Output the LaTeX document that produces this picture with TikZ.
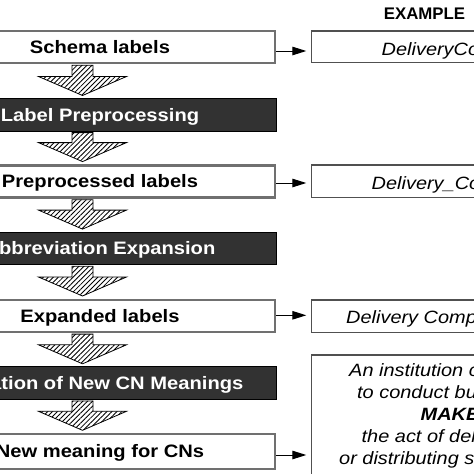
\documentclass[tikz,border=0pt]{standalone}
\usepackage{fontspec}
\setmainfont{Liberation Sans}[FakeStretch=1.12]
\newfontfamily\plainsans{Liberation Sans}
\usetikzlibrary{arrows.meta,patterns.meta,calc}
\definecolor{boxgray}{RGB}{112,112,112}
\definecolor{darkfill}{RGB}{50,50,50}
\definecolor{exgray}{RGB}{80,80,80}
\newcommand\stagefont{\fontsize{18}{20}\selectfont\bfseries}
\newcommand\exfont{\fontsize{17.8}{20}\selectfont\itshape}
\tikzset{
  stagebox/.style={draw=boxgray, line width=2.4pt, fill=white, minimum width=350pt,
    minimum height=32pt, inner sep=0pt, font=\stagefont, text height=12.9pt, text depth=0pt},
  procbox/.style={draw=black, line width=0.9pt, fill=darkfill, text=white, minimum width=352pt,
    minimum height=32.5pt, inner sep=0pt, font=\stagefont, text height=12.9pt, text depth=0pt},
  exbox/.style={draw=exgray, line width=1.1pt, fill=white, inner sep=0pt, minimum width=328pt},
  extext/.style={inner sep=0pt, anchor=base west, font=\exfont},
  conn/.style={line width=1pt, -{Triangle[length=14pt,width=8.5pt]}, shorten >=5pt},
  hatcharrow/.style={draw=black, line width=0.8pt, fill=white,
    postaction={pattern={Lines[angle=45,distance=3.5pt,line width=0.85pt]}}},
}
\newcommand\hatchdown[2]{%
  \coordinate (hs#1) at ($(#1.south -| hx)+(0,1.2)$);
  \coordinate (ht#1) at ($(#2.north -| hx)+(0,-2.5)$);
  \draw[hatcharrow] ($(hs#1)+(-10.5,0)$) -- ($(hs#1)+(10.5,0)$) -- ($(ht#1)+(10.5,-19)$)
    -- ($(ht#1)+(44,-19)$) -- (ht#1) -- ($(ht#1)+(-44,-19)$) -- ($(ht#1)+(-10.5,-19)$) -- cycle;}
\begin{document}
\begin{tikzpicture}[x=1pt,y=-1pt]
\useasboundingbox (0,0) rectangle (474,474);
\fill[white] (0,0) rectangle (474,474);
\clip (0,0) rectangle (474,474);
\coordinate (hx) at (82.5,0);
% title
\node[inner sep=0pt, anchor=base, font=\plainsans\fontsize{16.8}{18}\selectfont\bfseries] (ex) at (424.5,19) {EXAMPLE};
% stages
\node[stagebox] (b1) at (100,46.75) {Schema labels};
\node[procbox]  (p1) at (100,114.7) {Label Preprocessing};
\node[stagebox] (b2) at (100,181.3) {Preprocessed labels};
\node[procbox]  (p2) at (100,248.3) {Abbreviation Expansion};
\node[stagebox] (b3) at (100,315.7) {Expanded labels};
\node[procbox]  (p3) at (100,383) {Creation of New CN Meanings};
\node[stagebox, minimum height=35pt] (b4) at (100,451.5) {New meaning for CNs};
% hatched arrows
\hatchdown{b1}{p1}
\hatchdown{p1}{b2}
\hatchdown{b2}{p2}
\hatchdown{p2}{b3}
\hatchdown{b3}{p3}
\hatchdown{p3}{b4}
% example boxes
\node[exbox, minimum height=31.7pt] (e1) at (475.85,46.85) {};
\node[exbox, minimum height=32.7pt] (e2) at (475.85,181.35) {};
\node[exbox, minimum height=32.7pt] (e3) at (475.85,316.35) {};
\node[exbox, minimum height=205pt] (e4) at (475.85,457.5) {};
\node[extext] (x1) at (381.5,55) {DeliveryCompany};
\node[extext] (x2) at (371.5,189) {Delivery\_Company};
\node[extext] (x3) at (346,323.5) {Delivery Company};
\node[extext] (m1) at (349,376) {An institution created};
\node[extext] (m2) at (357,398) {to conduct business};
\node[extext, font=\exfont\bfseries] (m3) at (420.5,420) {MAKES};
\node[extext] (m4) at (361.5,442) {the act of delivering};
\node[extext] (m5) at (339,464) {or distributing something};
% connectors
\coordinate (c1) at (0,51);
\coordinate (c2) at (0,183);
\coordinate (c3) at (0,315.3);
\coordinate (c4) at (0,455);
\draw[conn] (b1.east |- c1) -- (e1.west |- c1);
\draw[conn] (b2.east |- c2) -- (e2.west |- c2);
\draw[conn] (b3.east |- c3) -- (e3.west |- c3);
\draw[conn] (b4.east |- c4) -- (e4.west |- c4);
\end{tikzpicture}
\end{document}
